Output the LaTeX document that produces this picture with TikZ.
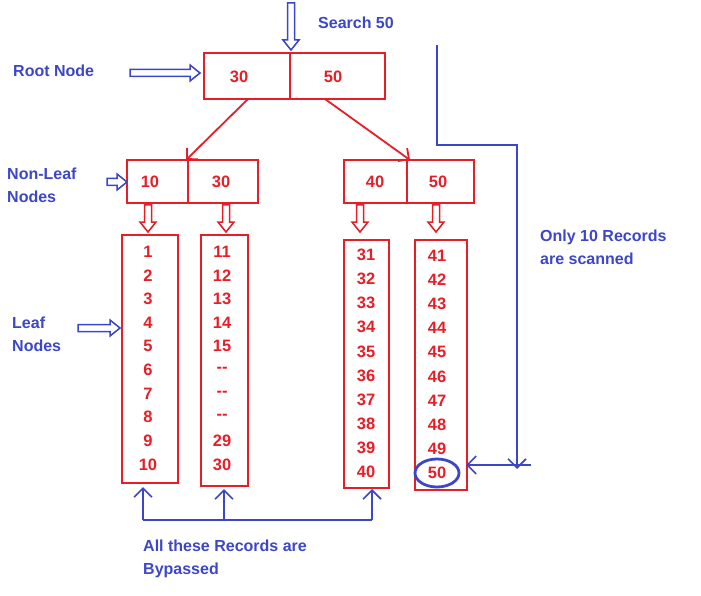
\documentclass[tikz,border=0pt]{standalone}
\usepackage{fontspec}
\setmainfont{Liberation Sans}
\usetikzlibrary{arrows.meta}
\definecolor{rd}{RGB}{230,30,40}
\definecolor{bl}{RGB}{60,70,200}
\newcommand{\hollowarr}[5]{% color, x, y, angle, length
  \begin{scope}[shift={(#2,#3)},rotate=#4]
  \draw[draw=#1,line width=1.5pt,line join=miter] (0,-3.5)--(#5-10,-3.5)--(#5-10,-8)--(#5,0)--(#5-10,8)--(#5-10,3.5)--(0,3.5)--cycle;
  \end{scope}}
\begin{document}
\begin{tikzpicture}[x=1pt,y=-1pt,
  box/.style={draw=rd,line width=1.6pt},
  num/.style={text=rd,font=\fontsize{16.5}{18}\selectfont\bfseries,inner sep=0pt},
  lbl/.style={text=bl,font=\fontsize{16}{23}\selectfont\bfseries,inner sep=0pt,align=left,anchor=west},
  bline/.style={draw=bl,line width=1.6pt},
  rline/.style={draw=rd,line width=1.8pt,-{Straight Barb[length=8pt,width=16pt]}},
  barrow/.style={bline,-{Straight Barb[length=9pt,width=18pt]}}]
\useasboundingbox (0,0) rectangle (701,596);
% root
\draw[box] (204,53) rectangle (385,99);
\draw[box] (290,53) -- (290,99);
\node[num] (r30) at (239,77) {30};
\node[num] (r50) at (333,77) {50};
\coordinate (rootL) at (248,99);
\coordinate (rootR) at (325,99);
% non-leaf
\draw[box] (127,160) rectangle (258,203); \draw[box] (188,160)--(188,203);
\draw[box] (344,160) rectangle (474,203); \draw[box] (407,160)--(407,203);
\node[num] (n10) at (150,182) {10};
\node[num] (n30) at (221,182) {30};
\node[num] (n40) at (375,182) {40};
\node[num] (n50) at (438,182) {50};
\coordinate (nlL) at (186,160); \coordinate (nlR) at (410,160);
\draw[rline] (rootL) -- (nlL);
\draw[rline] (rootR) -- (nlR);
% leaves
\draw[box] (122,235) rectangle (178,483);
\draw[box] (201,235) rectangle (248,486);
\draw[box] (344,240) rectangle (389,488);
\draw[box] (415,240) rectangle (467,490);
\foreach \t [count=\i] in {1,...,10}{\node[num] (a\i) at (148,252+23.6*\i-23.6) {\t};}
\foreach \t [count=\i] in {11,12,13,14,15,{-}{-},{-}{-},{-}{-},29,30}{\node[num] (b\i) at (222,252+23.6*\i-23.6) {\t};}
\foreach \t [count=\i] in {31,...,40}{\node[num] (c\i) at (366,255+24.1*\i-24.1) {\t};}
\foreach \t [count=\i] in {41,...,50}{\node[num] (d\i) at (437,256+24.1*\i-24.1) {\t};}
% red hollow arrows
\foreach \x in {148,226,360,436}{\hollowarr{rd}{\x}{205}{-90}{27}}
% blue hollow arrows
\hollowarr{bl}{291}{3}{-90}{47}
\hollowarr{bl}{130}{73}{0}{70}
\hollowarr{bl}{107}{182}{0}{20}
\hollowarr{bl}{78}{328}{0}{42}
% labels
\node[lbl] (ls) at (318,23) {Search 50};
\node[lbl] (lr) at (13,71) {Root Node};
\node[lbl] (ln) at (7,185) {Non-Leaf\\Nodes};
\node[lbl] (ll) at (12,334) {Leaf\\Nodes};
\node[lbl] (lo) at (540,247) {Only 10 Records\\are scanned};
\node[lbl] (la) at (143,559) {All these Records are\\Bypassed};
% scan path
\coordinate (p0) at (437,45); \coordinate (p1) at (437,145);
\coordinate (p2) at (517,145); \coordinate (p3) at (517,469);
\coordinate (q0) at (531,465); \coordinate (q1) at (466,465);
\draw[barrow] (p0)--(p1)--(p2)--(p3);
\draw[barrow] (q0)--(q1);
\draw[bl,line width=2.8pt] (437,473) ellipse (22 and 14);
% bypass
\coordinate (u1) at (143,520); \coordinate (u2) at (224,520); \coordinate (u3) at (372,520);
\draw[bline] (u1)--(u3);
\draw[barrow] (u1)--(143,487);
\draw[barrow] (u2)--(224,489);
\draw[barrow] (u3)--(372,489);
\end{tikzpicture}
\end{document}
